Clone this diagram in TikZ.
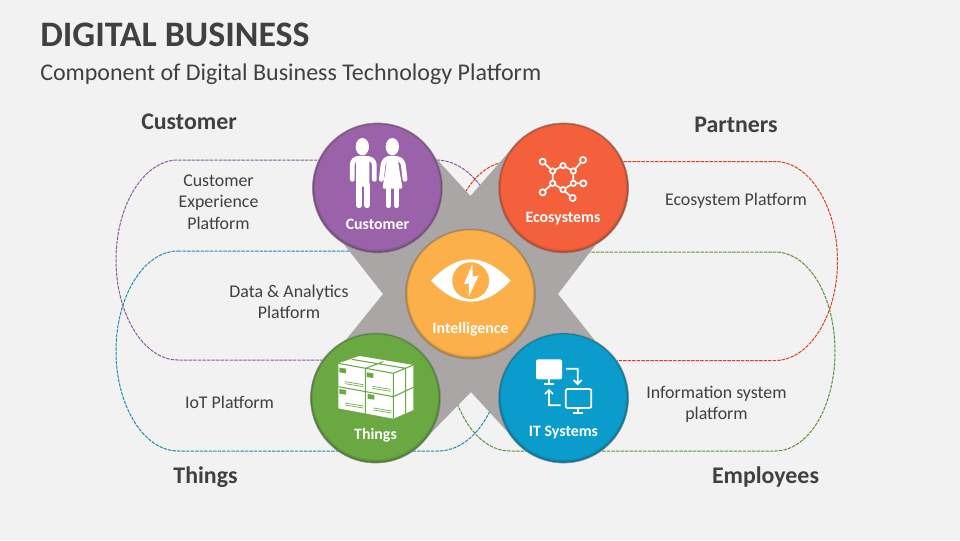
\documentclass[tikz,border=0pt]{standalone}
\usepackage{fontspec}
\setmainfont{Carlito}
\definecolor{bg}{HTML}{F2F2F2}
\definecolor{txt}{HTML}{404040}
\definecolor{xgrey}{HTML}{A9A6A5}
\definecolor{cpurple}{HTML}{9A62A8}
\definecolor{cred}{HTML}{F4603C}
\definecolor{cgreen}{HTML}{6AA842}
\definecolor{cblue}{HTML}{0A9CCB}
\definecolor{corange}{HTML}{FBB04A}
\definecolor{lpurple}{HTML}{8A5A9C}
\definecolor{lred}{HTML}{DB3F22}
\definecolor{lgreen}{HTML}{5E8E3C}
\definecolor{lblue}{HTML}{1A8CAE}
\tikzset{
  loopline/.style={line width=.75pt,dash pattern=on 2.6pt off .8pt},
  head/.style={font=\fontsize{17.9}{20}\selectfont\bfseries,text=txt,inner sep=0pt},
  body/.style={font=\fontsize{13.4}{16}\selectfont,text=txt,align=center,inner sep=0pt},
  clabel/.style={font=\fontsize{11.9}{13}\selectfont\bfseries,text=white,inner sep=0pt},
  disc/.style={circle,inner sep=0pt,minimum size=97.5pt,draw=black!45,line width=.5pt},
  wline/.style={draw=white,line width=1.3pt},
  limb/.style={draw=white,line width=3.6pt,line cap=round,line join=round},
  leg/.style={draw=white,line width=4.2pt,line cap=round},
}
\newcommand{\bubble}[4]{%
  \node[disc,fill=#4!72!black] (#1) at (#2,#3) {};
  \fill[#4!85!black] (#2,#3-.3) circle[radius=63.8];
  \fill[#4!94!black] (#2,#3-.6) circle[radius=63.1];
  \fill[#4] (#2,#3-.9) circle[radius=62.3];
}
\begin{document}
\begin{tikzpicture}[x=.75pt,y=-.75pt]
\useasboundingbox (0,0) rectangle (960,540);
\fill[bg] (0,0) rectangle (960,540);
% titles
\node[anchor=west,inner sep=0pt,text=txt,font=\fontsize{26.9}{30}\selectfont\bfseries] (title) at (40,34.5) {DIGITAL BUSINESS};
\node[anchor=west,inner sep=0pt,text=txt,font=\fontsize{18}{20}\selectfont] (subtitle) at (40,74) {Component of Digital Business Technology Platform};
% dashed loops
\draw[loopline,lpurple] (178,160) -- (436,160) .. controls (472,160) and (503,205) .. (503,260) .. controls (503,315) and (472,360) .. (436,360) -- (178,360) .. controls (144,360) and (116,315) .. (116,260) .. controls (116,205) and (144,160) .. (178,160) -- cycle;
\draw[loopline,lred] (510,161.5) -- (775,161.5) .. controls (809,161.5) and (837.5,206) .. (837.5,261) .. controls (837.5,316) and (809,360.5) .. (775,360.5) -- (510,360.5) .. controls (476,360.5) and (448,316) .. (448,261) .. controls (448,206) and (476,161.5) .. (510,161.5) -- cycle;
\draw[loopline,lgreen] (510,252) -- (775,252) .. controls (809,252) and (835,297) .. (835,351.5) .. controls (835,406) and (809,451) .. (775,451) -- (510,451) .. controls (476,451) and (448,406) .. (448,351.5) .. controls (448,297) and (476,252) .. (510,252) -- cycle;
\draw[loopline,lblue] (178,251) -- (438,251) .. controls (474,251) and (503,296) .. (503,351) .. controls (503,406) and (474,451) .. (438,451) -- (178,451) .. controls (144,451) and (116,406) .. (116,351) .. controls (116,296) and (144,251) .. (178,251) -- cycle;
% grey X
\fill[xgrey] (470.5,196) -- (514,146) -- (564,188) -- (597,243) -- (558,294) -- (596,342) -- (563.5,398) -- (515,440) -- (471,392) -- (428,436) -- (375.5,398) -- (345,341) -- (383,294) -- (343,243) -- (377,188) -- (432,154) -- cycle;
% discs
\bubble{customer}{377.5}{188}{cpurple}
\bubble{ecosystems}{563.5}{188}{cred}
\bubble{things}{375.5}{398}{cgreen}
\bubble{itsystems}{563.5}{398}{cblue}
\bubble{intelligence}{470.5}{294}{corange}
% people icon
\begin{scope}[shift={(300,120)},x=.25pt,y=-.25pt]
  \fill[white] (187,80) ellipse[x radius=20,y radius=26];
  \fill[white] (277,80) ellipse[x radius=20,y radius=26];
  \fill[white,rounded corners=2pt] (168,108) rectangle (208,200);
  \draw[limb] (157,178) -- (157,135) .. controls (157,122) and (165,115) .. (178,115) -- (198,115) .. controls (212,115) and (223,122) .. (223,135) -- (223,178);
  \draw[leg] (177,195) -- (177,256) (201,195) -- (201,256);
  \fill[white,rounded corners=1.5pt] (262,108) -- (292,108) -- (298,150) -- (308,206) -- (247,206) -- (257,150) -- cycle;
  \draw[limb] (244,178) -- (249,135) .. controls (252,122) and (258,115) .. (270,115) -- (284,115) .. controls (298,115) and (308,122) .. (310,135) -- (315,178);
  \draw[leg] (265,204) -- (265,256) (289,204) -- (289,256);
\end{scope}
% network icon
\begin{scope}[shift={(480,120)},x=.25pt,y=-.25pt]
  \draw[wline] (218,153) -- (249,137) -- (280,153) -- (280,190) -- (249,209) -- (218,190) -- cycle;
  \draw[wline] (188,125) -- (218,153) (309,120) -- (280,153) (310,190) -- (280,190) (278,234) -- (249,209) (188,217) -- (218,190);
  \foreach \px/\py in {188/125,309/120,310/190,278/234,188/217}
    \draw[wline,fill=cred] (\px,\py) circle[radius=2.3pt];
  \foreach \px/\py in {218/153,249/137,280/153,280/190,249/209,218/190}
    \draw[wline,fill=cred] (\px,\py) circle[radius=2pt];
\end{scope}
% boxes icon
\begin{scope}[shift={(300,320)},x=.25pt,y=-.25pt]
  \fill[white] (115,130) -- (178,108) -- (340,135) -- (340,270) -- (280,296) -- (115,265) -- cycle;
  \draw[cgreen,line width=.8pt] (115,130) -- (280,160) -- (340,135) (280,160) -- (280,296)
    (115,200) -- (280,230) -- (340,202) (196,145) -- (196,282) (317,145) -- (317,280)
    (155,118) -- (318,145) (196,145) -- (250,125);
  \foreach \ox/\oy in {0/0,82/14,0/64,85/79}{
    \fill[cgreen] (118+\ox,143+\oy) -- (138+\ox,146+\oy) -- (138+\ox,160+\oy) -- (118+\ox,157+\oy) -- cycle;
    \draw[cgreen,line width=.5pt] (135+\ox,185+\oy) -- (190+\ox,194+\oy) (135+\ox,191+\oy) -- (190+\ox,200+\oy);
  }
\end{scope}
% monitors icon
\begin{scope}[shift={(480,320)},x=.25pt,y=-.25pt]
  \fill[white,rounded corners=1.5pt] (168,118) rectangle (246,178);
  \draw[wline] (207,178) -- (207,191) (192,191) -- (222,191);
  \draw[wline,rounded corners=1.5pt] (257,207) rectangle (334,264);
  \draw[wline] (295,264) -- (295,278) (280,278) -- (310,278);
  \draw[wline] (258,146) -- (293,146) -- (293,192) (281,180) -- (293,192) -- (305,180);
  \draw[wline] (242,256) -- (207,256) -- (207,210) (195,222) -- (207,210) -- (219,222);
\end{scope}
% eye icon
\begin{scope}[shift={(380,220)},x=.25pt,y=-.25pt]
  \fill[white] (153,182) .. controls (195,138) and (235,118) .. (272,118) .. controls (310,118) and (350,138) .. (392,182) .. controls (350,226) and (310,245) .. (272,245) .. controls (235,245) and (195,226) .. (153,182) -- cycle;
  \fill[corange] (272,182) circle[radius=13.8pt];
  \fill[white] (277,133) -- (252,192) -- (267,190) -- (266,230) -- (296,167) -- (278,170) -- cycle;
\end{scope}
% disc labels
\node[clabel] (lcustomer) at (377.5,224.5) {Customer};
\node[clabel] (lecosystems) at (563,219) {Ecosystems};
\node[clabel] (lthings) at (375.5,435.5) {Things};
\node[clabel] (lit) at (563.5,432.5) {IT Systems};
\node[clabel] (lintel) at (470.5,329.5) {Intelligence};
% corner headings
\node[head] (hcustomer) at (189,121.5) {Customer};
\node[head] (hpartners) at (736,125) {Partners};
\node[head] (hthings) at (205.5,477) {Things};
\node[head] (hemployees) at (765.5,477) {Employees};
% platform labels
\node[body] (pcx) at (218.5,202) {Customer\\Experience\\Platform};
\node[body] (pdata) at (289,302) {Data \& Analytics\\Platform};
\node[body] (piot) at (229.5,402) {IoT Platform};
\node[body] (peco) at (736,201) {Ecosystem Platform};
\node[body] (pinfo) at (716.5,404.5) {Information system\\platform};
\end{tikzpicture}
\end{document}
